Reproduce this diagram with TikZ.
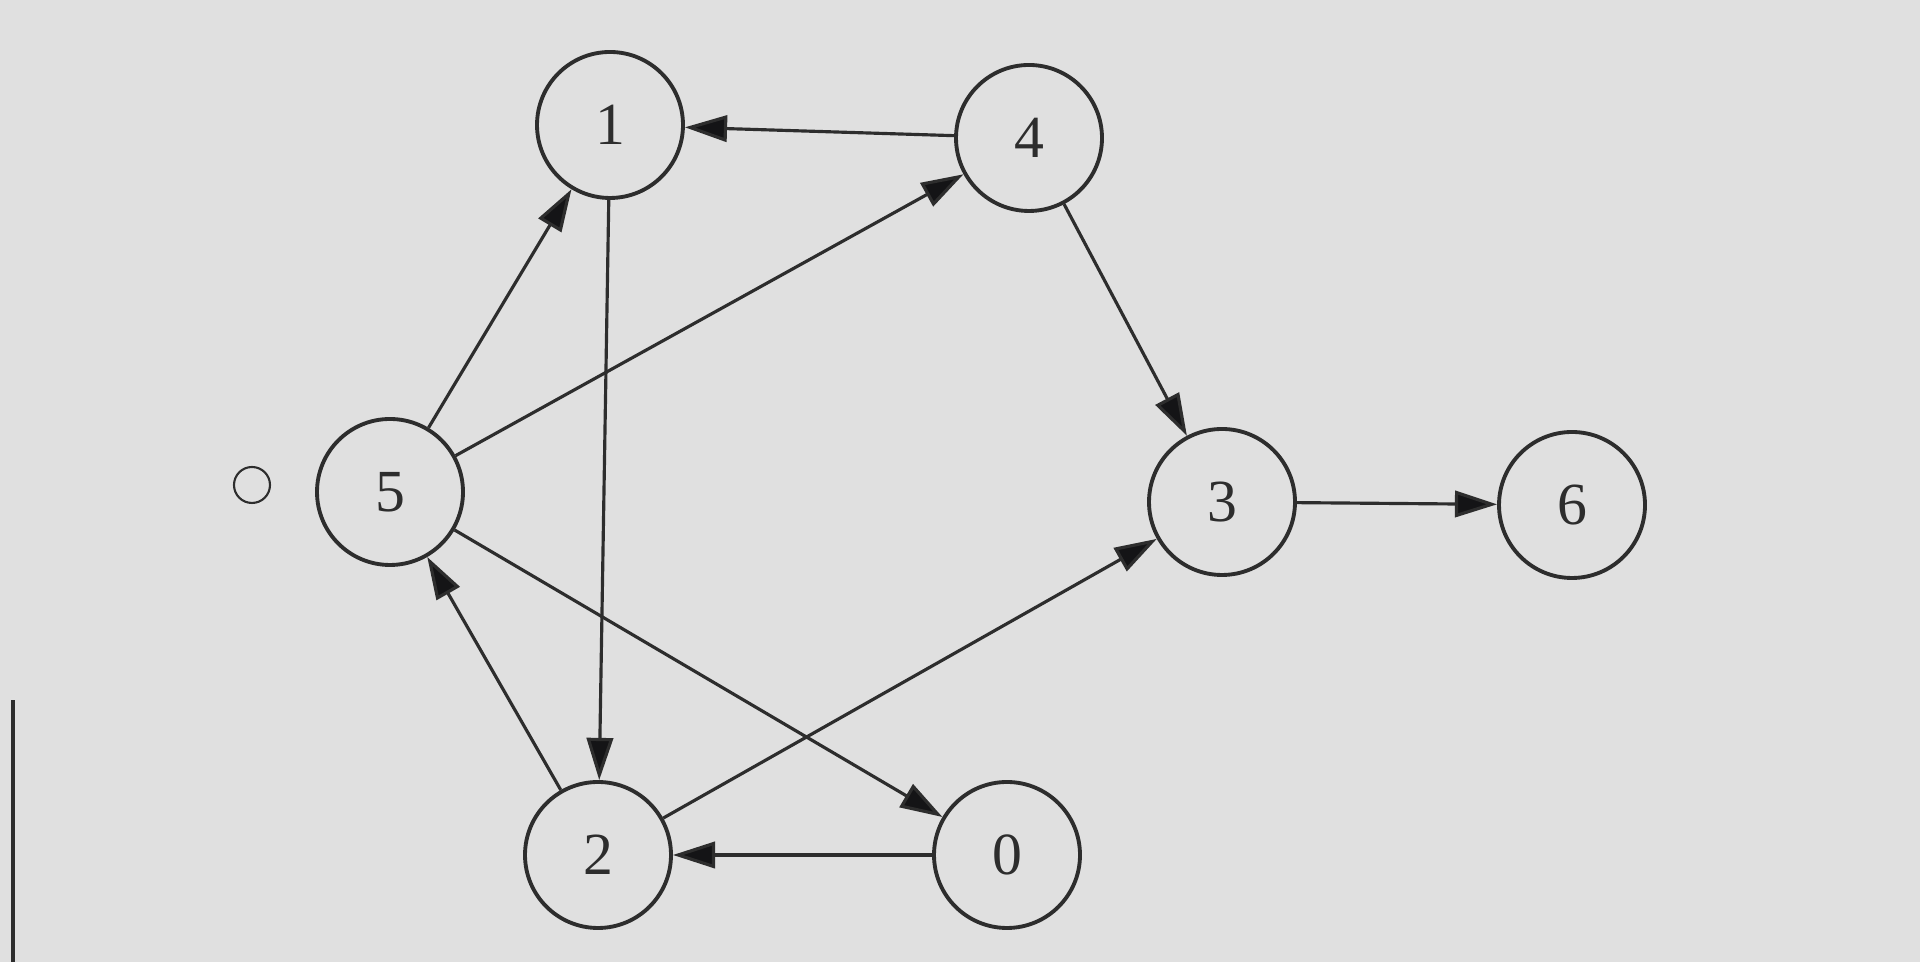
\documentclass[tikz,border=0pt]{standalone}
\usepackage{fontspec}
\setmainfont{Liberation Serif}
\usetikzlibrary{arrows.meta}
\definecolor{bggray}{RGB}{224,224,224}
\definecolor{linegray}{RGB}{45,45,45}
\definecolor{tipgray}{RGB}{20,20,22}
\begin{document}
\begin{tikzpicture}[>={Triangle[length=12pt,width=7.5pt,fill=tipgray]}, line width=0.9pt,
  vertex/.style={draw=linegray, circle, line width=1.1pt, minimum size=1.46cm, inner sep=0pt, font=\fontsize{17}{20}\selectfont, text=linegray}]

% Hintergrund
\fill[bggray] (0,0) rectangle (19.2,9.62);
\useasboundingbox (0,0) rectangle (19.2,9.62);
\draw[linegray, line width=1.2pt] (0.13,0) -- (0.13,2.62);

% Knoten
\node[draw=linegray, circle, minimum size=0.36cm, inner sep=0pt, line width=0.6pt] (radio) at (2.52,4.77) {};
\node[vertex] (n1) at (6.10,8.37) {1};
\node[vertex] (n4) at (10.29,8.24) {4};
\node[vertex] (n5) at (3.90,4.70) {5};
\node[vertex] (n3) at (12.22,4.60) {3};
\node[vertex] (n6) at (15.72,4.57) {6};
\node[vertex] (n2) at (5.98,1.07) {2};
\node[vertex] (n0) at (10.07,1.07) {0};

% Verbindungen
\draw[->, linegray] (n4) -- (n1);
\draw[->, linegray] (n5) -- (n1);
\draw[->, linegray] (n5) -- (n4);
\draw[->, linegray] (n1) -- (n2);
\draw[->, linegray] (n4) -- (n3);
\draw[->, linegray] (n2) -- (n5);
\draw[->, linegray] (n5) -- (n0);
\draw[->, linegray] (n0) -- (n2);
\draw[->, linegray] (n2) -- (n3);
\draw[->, linegray] (n3) -- (n6);

\end{tikzpicture}
\end{document}
